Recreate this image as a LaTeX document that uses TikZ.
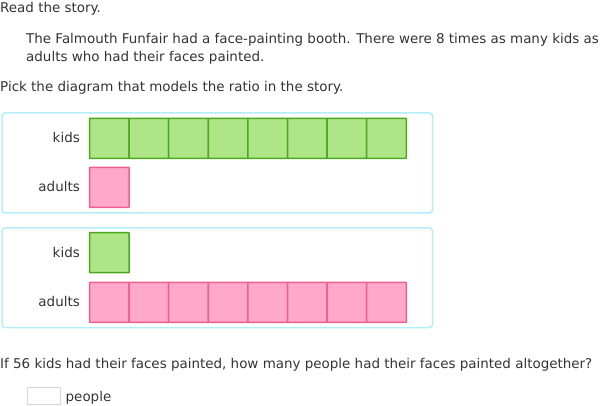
\documentclass[tikz,border=0pt]{standalone}
\usepackage{fontspec}
\setmainfont{DejaVu Sans}
\definecolor{txt}{HTML}{333333}
\definecolor{kidfill}{HTML}{AEE687}
\definecolor{kidline}{HTML}{4CA81E}
\definecolor{adultfill}{HTML}{FFA8C8}
\definecolor{adultline}{HTML}{EF5F8F}
\definecolor{framecol}{HTML}{B5EDFB}
\definecolor{answercol}{HTML}{D6D6D6}
\tikzset{
  kid/.style={draw=kidline, fill=kidfill, line width=1.5pt, rounded corners=0.6pt,
    minimum width=39.6pt, minimum height=40pt, inner sep=0pt},
  adult/.style={draw=adultline, fill=adultfill, line width=1.5pt, rounded corners=0.6pt,
    minimum width=39.6pt, minimum height=40pt, inner sep=0pt},
  lbl/.style={anchor=base east, inner sep=0pt},
  txtl/.style={anchor=base west, inner sep=0pt},
  choice/.style={draw=framecol, line width=1.5pt, rounded corners=3pt}
}
\begin{document}
\begin{tikzpicture}[x=1pt, y=-1pt, font=\fontsize{13.45}{16}\selectfont, text=txt]
   \useasboundingbox (0,0) rectangle (600,406);
   \node[txtl] (read) at (0,12.7) {Read the story.};
   \node[txtl] (story1) at (26,43.3) {The Falmouth Funfair had a face-painting booth. There were 8 times as many kids as};
   \node[txtl] (story2) at (26,61.7) {adults who had their faces painted.};
   \node[txtl] (pick) at (0,91.7) {Pick the diagram that models the ratio in the story.};
   % first choice
   \draw[choice] (2,113) rectangle (432.5,213);
   \node[lbl] (kidsA) at (80,142.7) {kids};
   \node[lbl] (adultsA) at (80,191.7) {adults};
   \node[kid] (ka1) at (109.3,138.3) {};
   \node[kid] (ka2) at (148.9,138.3) {};
   \node[kid] (ka3) at (188.5,138.3) {};
   \node[kid] (ka4) at (228.1,138.3) {};
   \node[kid] (ka5) at (267.7,138.3) {};
   \node[kid] (ka6) at (307.3,138.3) {};
   \node[kid] (ka7) at (346.9,138.3) {};
   \node[kid] (ka8) at (386.5,138.3) {};
   \node[adult] (aa1) at (109.3,187.3) {};
   % second choice
   \draw[choice] (2,228) rectangle (432.5,327.5);
   \node[lbl] (kidsB) at (80,257.3) {kids};
   \node[lbl] (adultsB) at (80,306.7) {adults};
   \node[kid] (kb1) at (109.3,252.7) {};
   \node[adult] (ab1) at (109.3,302.3) {};
   \node[adult] (ab2) at (148.9,302.3) {};
   \node[adult] (ab3) at (188.5,302.3) {};
   \node[adult] (ab4) at (228.1,302.3) {};
   \node[adult] (ab5) at (267.7,302.3) {};
   \node[adult] (ab6) at (307.3,302.3) {};
   \node[adult] (ab7) at (346.9,302.3) {};
   \node[adult] (ab8) at (386.5,302.3) {};
   % question
   \node[txtl] (quest) at (0,368.3) {If 56 kids had their faces painted, how many people had their faces painted altogether?};
   \draw[answercol, line width=1pt] (27,387) rectangle (60,404.5);
   \node[txtl] (people) at (65.5,401) {people};
\end{tikzpicture}
\end{document}
